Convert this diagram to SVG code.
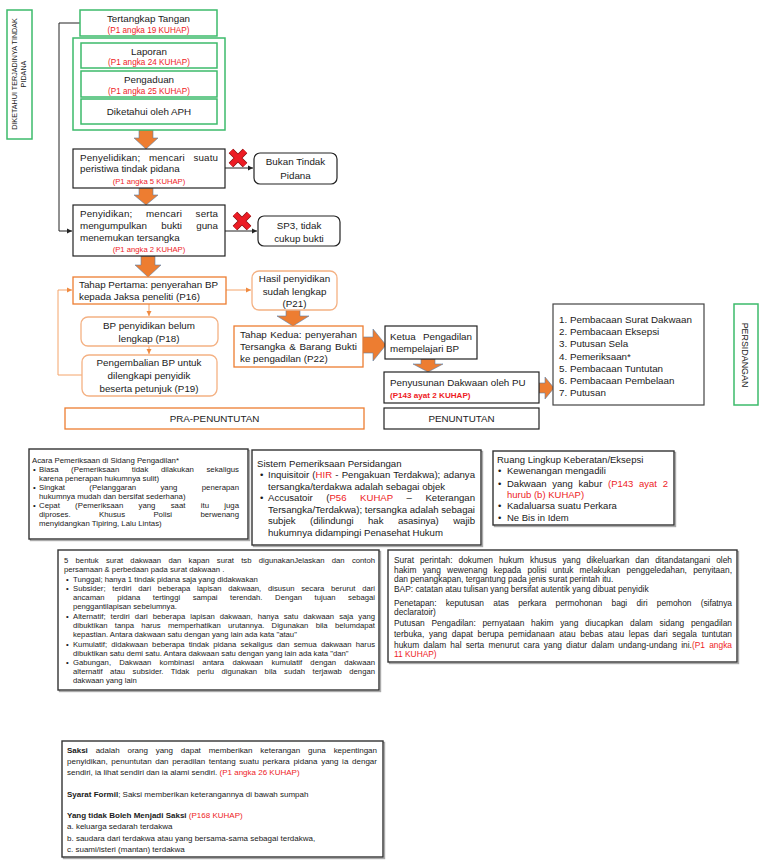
<svg xmlns="http://www.w3.org/2000/svg" width="768" height="866" viewBox="0 0 768 866">
<defs>
<style>
text{font-family:'Liberation Sans',Arial,sans-serif;fill:#1a1a1a}
.m{text-anchor:middle}
.red{fill:#ee1c25}
.f10{font-size:9.8px}
.f8{font-size:8.2px}
.f7{font-size:7.7px}
.fa{font-size:7.8px}
.fb{font-size:9.6px}
.fc{font-size:9.5px}
.fd{font-size:7.7px}
.fe{font-size:8.4px}
.ff{font-size:8px}
.gb{fill:#fff;stroke:#3dbb6b;stroke-width:1.5}
.bk{fill:#fff;stroke:#222;stroke-width:1.2}
.ob{fill:#fff;stroke:#ed7d31;stroke-width:1.3}
.ol{fill:#fff;stroke:#f4b183;stroke-width:1.3}
.ba{fill:#ed7d31;stroke:#5b7fa8;stroke-width:0.6}
.ln{fill:none;stroke:#222;stroke-width:1}
.lo{fill:none;stroke:#f4a46a;stroke-width:1}
.nb{fill:#fff;stroke:#333;stroke-width:1.4}
.sh{fill:none;stroke:#aaa;stroke-width:1.4}
.xo{fill:none;stroke:#8a1010;stroke-width:6.4}
.xi{fill:none;stroke:#ec1c24;stroke-width:5}
</style>
<marker id="ak" markerWidth="6" markerHeight="6" refX="5" refY="3" orient="auto" markerUnits="userSpaceOnUse"><path d="M0,0.5 L5,3 L0,5.5 z" fill="#222"/></marker>
<marker id="ao" markerWidth="6" markerHeight="6" refX="5" refY="3" orient="auto" markerUnits="userSpaceOnUse"><path d="M0,0.5 L5,3 L0,5.5 z" fill="#f08a40"/></marker>
</defs>
<rect width="768" height="866" fill="#fff"/>

<g id="connectors">
<polyline class="ln" points="80,23 59,23 59,231 72,231" marker-end="url(#ak)"/>
<line class="ln" x1="225" y1="168" x2="253" y2="168" marker-end="url(#ak)"/>
<line class="ln" x1="225" y1="231" x2="257" y2="231" marker-end="url(#ak)"/>
<line class="lo" x1="226" y1="290" x2="251" y2="290" marker-end="url(#ao)"/>
<line class="lo" x1="149" y1="304" x2="149" y2="316" marker-end="url(#ao)"/>
<line class="lo" x1="149" y1="346" x2="149" y2="354" marker-end="url(#ao)"/>
<polyline class="lo" points="82,375 58,375 58,290 72,290" marker-end="url(#ao)"/>
<path class="ba" d="M139,130 H153 V138 H158 L146,149 L134,138 H139 Z"/>
<path class="ba" d="M139,188 H153 V195 H158 L146,205 L134,195 H139 Z"/>
<path class="ba" d="M141,256 H155 V265 H161 L148,277 L135,265 H141 Z"/>
<path class="ba" d="M286,310 H300 V316 H309 L293,326 L277,316 H286 Z"/>
<path class="ba" d="M363,337 H373 V329 L386,345 L373,361 V353 H363 Z"/>
<path class="ba" d="M421,359 H435 V364 H443 L428,372 L413,364 H421 Z"/>
<path class="ba" d="M539,383 H545 V377 L554,388 L545,399 V393 H539 Z"/>
<g transform="translate(238,158)"><path class="xo" d="M-7,-7 L7,7 M7,-7 L-7,7"/><path class="xi" d="M-7,-7 L7,7 M7,-7 L-7,7"/></g>
<g transform="translate(242,221)"><path class="xo" d="M-7,-7 L7,7 M7,-7 L-7,7"/><path class="xi" d="M-7,-7 L7,7 M7,-7 L-7,7"/></g>
</g>

<g id="label-diketahui">
<rect x="7" y="10" width="25" height="129" class="gb"/>
<text transform="translate(17,74) rotate(-90)" class="m" font-size="7.2">DIKETAHUI TERJADINYA TINDAK</text>
<text transform="translate(26,74) rotate(-90)" class="m" font-size="7.2">PIDANA</text>
</g>

<g id="tertangkap">
<rect x="80" y="10" width="137" height="26" class="gb"/>
<text x="148.5" y="22" class="m f10">Tertangkap Tangan</text>
<text x="148.5" y="33" class="m f8 red">(P1 angka 19 KUHAP)</text>
</g>

<g id="group-laporan">
<rect x="73" y="38" width="152" height="92" class="gb"/>
</g>
<g id="laporan">
<rect x="81" y="43" width="136" height="25" class="gb"/>
<text x="149" y="55" class="m f10">Laporan</text>
<text x="149" y="65" class="m f8 red">(P1 angka 24 KUHAP)</text>
</g>
<g id="pengaduan">
<rect x="81" y="71" width="136" height="26" class="gb"/>
<text x="149" y="83" class="m f10">Pengaduan</text>
<text x="149" y="93.5" class="m f8 red">(P1 angka 25 KUHAP)</text>
</g>
<g id="diketahui-aph">
<rect x="81" y="99" width="136" height="25" class="gb"/>
<text x="149" y="115" class="m f10">Diketahui oleh APH</text>
</g>

<g id="penyelidikan">
<rect x="73" y="149" width="152" height="39" class="bk"/>
<text x="80" y="161" class="f10" word-spacing="5.7" textLength="138" lengthAdjust="spacing">Penyelidikan; mencari suatu</text>
<text x="80" y="172" class="f10">peristiwa tindak pidana</text>
<text x="149" y="184" class="m f7 red">(P1 angka 5 KUHAP)</text>
</g>
<g id="bukan-tindak-pidana">
<rect x="254" y="153" width="83" height="31" rx="6" class="bk"/>
<text x="295.5" y="165" class="m f10">Bukan Tindak</text>
<text x="295.5" y="179" class="m f10">Pidana</text>
</g>

<g id="penyidikan">
<rect x="73" y="205" width="152" height="51" class="bk"/>
<text x="80" y="217" class="f10" word-spacing="10.7" textLength="138" lengthAdjust="spacing">Penyidikan; mencari serta</text>
<text x="80" y="229" class="f10" word-spacing="11.5" textLength="138" lengthAdjust="spacing">mengumpulkan bukti guna</text>
<text x="80" y="241" class="f10">menemukan tersangka</text>
<text x="149" y="252" class="m f7 red">(P1 angka 2 KUHAP)</text>
</g>
<g id="sp3">
<rect x="258" y="216" width="82" height="30" rx="6" class="bk"/>
<text x="299" y="228.5" class="m f10">SP3, tidak</text>
<text x="299" y="242" class="m f10">cukup bukti</text>
</g>

<g id="tahap-pertama">
<rect x="73" y="277" width="153" height="27" class="ob"/>
<text x="79" y="288" class="f10" textLength="139" lengthAdjust="spacing">Tahap Pertama: penyerahan BP</text>
<text x="79" y="299.5" class="f10">kepada Jaksa peneliti (P16)</text>
</g>
<g id="hasil-penyidikan">
<rect x="252" y="271" width="85" height="39" rx="7" class="ol"/>
<text x="294.5" y="282" class="m f10">Hasil penyidikan</text>
<text x="294.5" y="295" class="m f10">sudah lengkap</text>
<text x="294.5" y="307" class="m f10">(P21)</text>
</g>
<g id="bp-belum-lengkap">
<rect x="81" y="317" width="137" height="29" rx="7" class="ol"/>
<text x="149" y="329" class="m f10">BP penyidikan belum</text>
<text x="149" y="342" class="m f10">lengkap (P18)</text>
</g>
<g id="pengembalian-bp">
<rect x="82" y="355" width="135" height="41" rx="7" class="ol"/>
<text x="149" y="366" class="m f10">Pengembalian BP untuk</text>
<text x="149" y="379" class="m f10">dilengkapi penyidik</text>
<text x="149" y="392" class="m f10">beserta petunjuk (P19)</text>
</g>

<g id="tahap-kedua">
<rect x="234" y="326" width="129" height="41" class="ob"/>
<text x="240" y="338" class="f10" word-spacing="0.7" textLength="117" lengthAdjust="spacing">Tahap Kedua: penyerahan</text>
<text x="240" y="350" class="f10" word-spacing="0.9" textLength="117" lengthAdjust="spacing">Tersangka &amp; Barang Bukti</text>
<text x="240" y="362" class="f10">ke pengadilan (P22)</text>
</g>
<g id="ketua-pengadilan">
<rect x="385" y="326" width="92" height="33" class="bk"/>
<text x="390" y="340" class="f10" word-spacing="4.7" textLength="82" lengthAdjust="spacing">Ketua Pengadilan</text>
<text x="390" y="352" class="f10">mempelajari BP</text>
</g>
<g id="penyusunan-dakwaan">
<rect x="384" y="372" width="155" height="31" class="bk"/>
<text x="390" y="386" class="f10">Penyusunan Dakwaan oleh PU</text>
<text x="390" y="398" font-size="8.1" class="red" font-weight="bold">(P143 ayat 2 KUHAP)</text>
</g>

<g id="pra-penuntutan">
<rect x="65" y="408" width="299" height="21" class="ob"/>
<text x="214.5" y="422" class="m f10">PRA-PENUNTUTAN</text>
</g>
<g id="penuntutan">
<rect x="384" y="408" width="155" height="21" class="bk"/>
<text x="461.5" y="422" class="m f10">PENUNTUTAN</text>
</g>

<g id="tahapan-persidangan">
<rect x="553" y="304" width="151" height="101" fill="#fff" stroke="#444" stroke-width="1.2"/>
<text x="559" y="323" class="f10">1. Pembacaan Surat Dakwaan</text>
<text x="559" y="335.2" class="f10">2. Pembacaan Eksepsi</text>
<text x="559" y="347.4" class="f10">3. Putusan Sela</text>
<text x="559" y="359.6" class="f10">4. Pemeriksaan*</text>
<text x="559" y="371.8" class="f10">5. Pembacaan Tuntutan</text>
<text x="559" y="384" class="f10">6. Pembacaan Pembelaan</text>
<text x="559" y="396.2" class="f10">7. Putusan</text>
</g>
<g id="label-persidangan">
<rect x="734" y="304" width="24" height="101" class="gb"/>
<text transform="translate(742,355) rotate(90)" class="m" font-size="8.9">PERSIDANGAN</text>
</g>

<g id="acara-pemeriksaan">
<rect x="30.5" y="450.5" width="219" height="90" class="sh"/>
<rect x="29" y="449" width="219" height="90" class="nb"/>
<text x="32" y="463" class="fa">Acara Pemeriksaan di Sidang Pengadilan*</text>
<text x="33" y="472" class="fa">•</text>
<text x="39" y="472" class="fa" word-spacing="10.4" textLength="200" lengthAdjust="spacing">Biasa (Pemeriksaan tidak dilakukan sekaligus</text>
<text x="39" y="481" class="fa">karena penerapan hukumnya sulit)</text>
<text x="33" y="490" class="fa">•</text>
<text x="39" y="490" class="fa" word-spacing="22.2" textLength="200" lengthAdjust="spacing">Singkat (Pelanggaran yang penerapan</text>
<text x="39" y="499" class="fa">hukumnya mudah dan bersifat sederhana)</text>
<text x="33" y="508" class="fa">•</text>
<text x="39" y="508" class="fa" word-spacing="13.1" textLength="200" lengthAdjust="spacing">Cepat (Pemeriksaan yang saat itu juga</text>
<text x="39" y="517" class="fa" word-spacing="26.2" textLength="200" lengthAdjust="spacing">diproses. Khusus Polisi berwenang</text>
<text x="39" y="526" class="fa">menyidangkan Tipiring, Lalu Lintas)</text>
</g>

<g id="sistem-pemeriksaan">
<rect x="253.5" y="451.5" width="229" height="95" class="sh"/>
<rect x="252" y="450" width="229" height="95" class="nb"/>
<text x="257" y="467" class="fb">Sistem Pemeriksaan Persidangan</text>
<text x="260" y="478" class="fb">•</text>
<text x="268" y="478" class="fb" word-spacing="0.5" textLength="207" lengthAdjust="spacing">Inquisitoir (<tspan class="red">HIR</tspan> - Pengakuan Terdakwa); adanya</text>
<text x="268" y="489.5" class="fb">tersangka/terdakwa adalah sebagai objek</text>
<text x="260" y="501" class="fb">•</text>
<text x="268" y="501" class="fb" word-spacing="10.9" textLength="207" lengthAdjust="spacing">Accusatoir (<tspan class="red">P56 KUHAP</tspan> – Keterangan</text>
<text x="268" y="512.5" class="fb" textLength="207" lengthAdjust="spacing">Tersangka/Terdakwa); tersangka adalah sebagai</text>
<text x="268" y="524" class="fb" word-spacing="11.8" textLength="207" lengthAdjust="spacing">subjek (dilindungi hak asasinya) wajib</text>
<text x="268" y="535.5" class="fb">hukumnya didampingi Penasehat Hukum</text>
</g>

<g id="ruang-lingkup-eksepsi">
<rect x="494.5" y="452.5" width="181" height="74" class="sh"/>
<rect x="493" y="451" width="181" height="74" class="nb"/>
<text x="497" y="463" class="fc">Ruang Lingkup Keberatan/Eksepsi</text>
<text x="498" y="474" class="fc">•</text>
<text x="507" y="474" class="fc">Kewenangan mengadili</text>
<text x="498" y="486.5" class="fc">•</text>
<text x="507" y="486.5" class="fc" word-spacing="3.1" textLength="161" lengthAdjust="spacing">Dakwaan yang kabur <tspan class="red">(P143 ayat 2</tspan></text>
<text x="507" y="497.5" class="fc red">hurub (b) KUHAP)</text>
<text x="498" y="509" class="fc">•</text>
<text x="507" y="509" class="fc">Kadaluarsa suatu Perkara</text>
<text x="498" y="520.5" class="fc">•</text>
<text x="507" y="520.5" class="fc">Ne Bis in Idem</text>
</g>

<g id="bentuk-surat-dakwaan">
<rect x="59.5" y="551.5" width="321" height="140" class="sh"/>
<rect x="58" y="550" width="321" height="140" class="nb"/>
<text x="64" y="563" class="fd" word-spacing="5.2" textLength="311" lengthAdjust="spacing">5 bentuk surat dakwaan dan kapan surat tsb digunakanJelaskan dan contoh</text>
<text x="64" y="572" class="fd">persamaan &amp; perbedaan pada surat dakwaan .</text>
<text x="66" y="581.5" class="fd">•</text>
<text x="73" y="581.5" class="fd">Tunggal; hanya 1 tindak pidana saja yang didakwakan</text>
<text x="66" y="591" class="fd">•</text>
<text x="73" y="591" class="fd" word-spacing="4.6" textLength="302" lengthAdjust="spacing">Subsider; terdiri dari beberapa lapisan dakwaan, disusun secara berurut dari</text>
<text x="73" y="600" class="fd" word-spacing="10.5" textLength="302" lengthAdjust="spacing">ancaman pidana tertinggi sampai terendah. Dengan tujuan sebagai</text>
<text x="73" y="609" class="fd">penggantilapisan sebelumnya.</text>
<text x="66" y="619" class="fd">•</text>
<text x="73" y="619" class="fd" word-spacing="2.9" textLength="302" lengthAdjust="spacing">Alternatif; terdiri dari beberapa lapisan dakwaan, hanya satu dakwaan saja yang</text>
<text x="73" y="628" class="fd" word-spacing="5.2" textLength="302" lengthAdjust="spacing">dibuktikan tanpa harus memperhatikan urutannya. Digunakan bila belumdapat</text>
<text x="73" y="637" class="fd">kepastian. Antara dakwaan satu dengan yang lain ada kata "atau"</text>
<text x="66" y="646.5" class="fd">•</text>
<text x="73" y="646.5" class="fd" word-spacing="2.1" textLength="302" lengthAdjust="spacing">Kumulatif; didakwaan beberapa tindak pidana sekaligus dan semua dakwaan harus</text>
<text x="73" y="655.5" class="fd">dibuktikan satu demi satu. Antara dakwaan satu dengan yang lain ada kata "dan"</text>
<text x="66" y="665" class="fd">•</text>
<text x="73" y="665" class="fd" word-spacing="6.1" textLength="302" lengthAdjust="spacing">Gabungan, Dakwaan kombinasi antara dakwaan kumulatif dengan dakwaan</text>
<text x="73" y="674" class="fd" word-spacing="5.3" textLength="302" lengthAdjust="spacing">alternatif atau subsider. Tidak perlu digunakan bila sudah terjawab dengan</text>
<text x="73" y="683" class="fd">dakwaan yang lain</text>
</g>

<g id="definisi">
<rect x="389.5" y="551.5" width="349" height="112" class="sh"/>
<rect x="388" y="550" width="349" height="112" class="nb"/>
<text x="394" y="563" class="fe" word-spacing="3.6" textLength="338" lengthAdjust="spacing">Surat perintah: dokumen hukum khusus yang dikeluarkan dan ditandatangani oleh</text>
<text x="394" y="573" class="fe" word-spacing="3.85" textLength="338" lengthAdjust="spacing">hakim yang wewenang kepada polisi untuk melakukan penggeledahan, penyitaan,</text>
<text x="394" y="582" class="fe">dan penangkapan, tergantung pada jenis surat perintah itu.</text>
<text x="394" y="591.5" class="fe">BAP: catatan atau tulisan yang bersifat autentik yang dibuat penyidik</text>
<text x="394" y="606" class="fe" word-spacing="7" textLength="338" lengthAdjust="spacing">Penetapan: keputusan atas perkara permohonan bagi diri pemohon (sifatnya</text>
<text x="394" y="615" class="fe">declaratoir)</text>
<text x="394" y="626" class="fe" word-spacing="4.4" textLength="338" lengthAdjust="spacing">Putusan Pengadilan: pernyataan hakim yang diucapkan dalam sidang pengadilan</text>
<text x="394" y="637" class="fe" word-spacing="2.3" textLength="338" lengthAdjust="spacing">terbuka, yang dapat berupa pemidanaan atau bebas atau lepas dari segala tuntutan</text>
<text x="394" y="648" class="fe" word-spacing="1.8" textLength="338" lengthAdjust="spacing">hukum dalam hal serta menurut cara yang diatur dalam undang-undang ini.<tspan class="red">(P1 angka</tspan></text>
<text x="394" y="657" class="fe red">11 KUHAP)</text>
</g>

<g id="saksi">
<rect x="63.5" y="742.5" width="321" height="116" class="sh"/>
<rect x="62" y="741" width="321" height="116" class="nb"/>
<text x="67" y="753" class="ff" word-spacing="5.7" textLength="310" lengthAdjust="spacing"><tspan font-weight="bold">Saksi</tspan> adalah orang yang dapat memberikan keterangan guna kepentingan</text>
<text x="67" y="764" class="ff" word-spacing="1.3" textLength="310" lengthAdjust="spacing">penyidikan, penuntutan dan peradilan tentang suatu perkara pidana yang ia dengar</text>
<text x="67" y="775" class="ff">sendiri, ia lihat sendiri dan ia alami sendiri. <tspan class="red">(P1 angka 26 KUHAP)</tspan></text>
<text x="67" y="797" class="ff"><tspan font-weight="bold">Syarat Formil</tspan>; Saksi memberikan keterangannya di bawah sumpah</text>
<text x="67" y="818" class="ff"><tspan font-weight="bold">Yang tidak Boleh Menjadi Saksi</tspan> <tspan class="red">(P168 KUHAP)</tspan></text>
<text x="67" y="829" class="ff">a. keluarga sedarah terdakwa</text>
<text x="67" y="840.5" class="ff">b. saudara dari terdakwa atau yang bersama-sama sebagai terdakwa,</text>
<text x="67" y="852" class="ff">c. suami/isteri (mantan) terdakwa</text>
</g>
</svg>
